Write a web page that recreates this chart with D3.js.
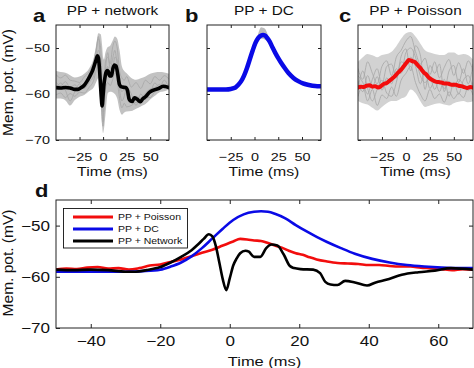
<!DOCTYPE html>
<html>
<head>
<meta charset="utf-8">
<script src="https://cdn.jsdelivr.net/npm/d3@7"></script>
<style>
body { margin:0; background:#fff; }
svg { display:block; font-family:"Liberation Sans", Arial, sans-serif; }
</style>
</head>
<body>
<svg id="fig" width="474" height="368"></svg>
<script>
// ---- data (ms, mV) ----
var netT = [-50,-45,-40,-35,-30,-27,-24,-20,-17,-14,-11,-9,-7.5,-6,-5,-4,-3,-2,-1,0,1,2,3,4.5,5.5,7,8.8,10.5,12,13.7,15.5,17.3,18.5,20.4,24,26,27.5,29,31,33.2,36,39.5,42,45,49.5,54.3,59,63.7,70];
var netV = [-58.6,-58.7,-58.6,-58.7,-59.0,-59.0,-58.7,-58.1,-57.2,-56.1,-54.8,-53.6,-52.6,-51.7,-52.1,-54.0,-57.2,-60.5,-62.6,-60.3,-57.8,-56.4,-55.4,-54.9,-55.1,-56.1,-56.1,-54.4,-53.7,-53.9,-55.6,-57.9,-58.3,-58.5,-58.6,-59.3,-61.0,-61.5,-61.6,-60.8,-61.1,-61.7,-61.1,-60.6,-59.6,-59.1,-58.8,-58.3,-58.6];

var dcT = [-50,-40,-30,-25,-20,-17,-14,-11,-8,-5,-2,1,4,7,9,11,13,16,19,22,25,28,32,36,41,46,51,56,61,66,70];
var dcV = [-59.0,-59.0,-59.0,-58.9,-58.6,-58.0,-57.2,-56.0,-54.4,-52.5,-50.6,-48.9,-47.8,-47.3,-47.2,-47.3,-47.7,-48.6,-49.9,-51.1,-52.2,-53.2,-54.4,-55.5,-56.5,-57.2,-57.7,-58.0,-58.2,-58.3,-58.3];

var poiT = [-50,-47,-44,-41,-38,-35,-32,-29,-26,-23,-20,-17,-14,-11,-8,-5,-2,1,3,5,7,9,11,13,15,17,19,21,23,25,28,31,34,37,40,43,46,49,52,55,58,61,64,67,70];
var poiV = [-58.6,-58.4,-58.5,-58.2,-58.1,-58.4,-58.3,-58.6,-58.3,-57.8,-57.6,-57.1,-56.6,-56.0,-55.3,-54.7,-53.9,-53.1,-52.6,-52.7,-52.9,-53.0,-53.4,-53.9,-54.3,-54.9,-55.4,-55.7,-56.2,-56.6,-57.0,-57.3,-57.4,-57.5,-57.7,-57.7,-57.9,-58.0,-58.0,-58.2,-58.3,-58.5,-58.7,-58.5,-58.6];

// panel a: spread of single trials
var aT  = [-50,-45,-40,-35,-30,-25,-20,-15,-10,-7.5,-5,-2.5,-1,0,1,2.5,5,7.5,10,12.5,15,17.5,20,22.5,25,30,35,40,45,50,55,60,65,70];
var aHi = [-55.0,-55.2,-55.4,-55.9,-56.4,-56.2,-55.6,-54.5,-52.2,-49.5,-46.8,-47.0,-49.5,-52.0,-52.5,-51.0,-49.8,-49.5,-48.5,-47.5,-48.0,-50.5,-54.0,-55.0,-55.5,-56.5,-56.9,-56.6,-56.2,-55.6,-55.3,-55.2,-55.3,-55.6];
var aLo = [-61.0,-61.0,-61.4,-62.5,-61.3,-60.6,-60.2,-59.4,-58.6,-57.5,-56.5,-62.0,-67.0,-68.5,-67.5,-64.5,-59.8,-59.5,-59.6,-60.0,-61.0,-63.5,-64.5,-64.0,-63.8,-63.7,-63.2,-62.7,-62.2,-61.2,-60.4,-59.6,-59.4,-59.0];
var aTr1 = [-55.8,-56.5,-55.9,-57.0,-57.2,-57.5,-56.3,-55.2,-53.0,-50.5,-48.0,-50.0,-57.0,-60.0,-58.0,-53.0,-52.0,-53.5,-50.0,-48.5,-50.0,-55.0,-56.5,-57.0,-56.2,-58.5,-57.5,-58.8,-57.0,-57.8,-56.2,-57.0,-56.0,-56.8];
var aTr2 = [-60.2,-59.8,-60.8,-59.9,-60.5,-59.6,-59.8,-58.6,-57.0,-55.0,-53.5,-58.0,-65.5,-67.0,-64.0,-59.0,-57.5,-58.2,-57.0,-55.5,-57.0,-61.0,-63.0,-62.0,-62.8,-62.5,-61.8,-62.0,-60.6,-60.8,-59.5,-59.0,-58.4,-58.2];
var aTr3 = [-57.5,-58.2,-57.3,-58.6,-58.0,-58.8,-57.6,-56.8,-55.0,-52.8,-50.5,-53.0,-61.0,-64.0,-62.0,-56.5,-54.0,-56.5,-55.0,-52.0,-52.5,-57.5,-59.5,-59.0,-60.2,-61.2,-60.5,-60.9,-59.8,-58.9,-58.6,-57.9,-58.8,-57.8];
var aTr4 = [-59.0,-57.6,-59.2,-61.5,-59.5,-57.8,-58.8,-57.5,-56.0,-51.5,-47.5,-55.0,-63.5,-66.0,-61.0,-55.0,-51.0,-54.5,-52.5,-50.5,-54.0,-59.0,-61.5,-60.5,-58.5,-60.0,-62.5,-60.0,-61.2,-59.8,-57.6,-58.5,-57.0,-58.9];

// panel b
var bT  = [-25,-20,-15,-10,-5,0,3,5,7,9,11,13,15,20,25,30];
var bHi = [-58.7,-58.2,-57.0,-55.0,-52.0,-49.3,-47.5,-46.2,-45.5,-45.6,-45.8,-46.6,-47.8,-49.5,-51.8,-53.4];
var bLo = [-59.2,-59.0,-58.0,-56.5,-53.3,-50.5,-49.0,-48.3,-48.0,-48.0,-48.2,-48.5,-49.0,-50.6,-52.8,-53.9];

// panel c
var cT  = [-50,-45,-40,-35,-30,-25,-20,-15,-10,-5,0,5,10,15,20,25,30,35,40,45,50,55,60,65,70];
var cHi = [-53.0,-52.0,-51.3,-51.6,-52.0,-51.5,-51.3,-50.8,-49.6,-48.0,-46.8,-46.5,-47.5,-49.0,-50.5,-51.0,-51.3,-51.5,-51.5,-51.0,-51.0,-51.5,-51.3,-51.6,-52.5];
var cLo = [-61.5,-62.0,-62.3,-63.0,-63.6,-62.8,-62.0,-61.5,-61.5,-61.0,-60.5,-59.0,-59.8,-61.5,-62.8,-62.5,-62.2,-62.0,-62.3,-62.5,-62.0,-61.7,-61.5,-61.8,-61.6];
var cTr1 = [-54.5,-56.8,-53.0,-55.5,-57.8,-54.0,-52.8,-56.0,-52.0,-50.5,-48.5,-47.5,-50.8,-53.5,-52.2,-55.8,-53.0,-56.5,-54.2,-52.5,-56.0,-53.2,-55.5,-52.8,-55.0];
var cTr2 = [-60.5,-58.2,-61.5,-59.0,-62.5,-60.2,-61.0,-58.5,-60.5,-57.0,-55.5,-54.0,-57.5,-60.0,-61.5,-59.0,-61.0,-60.0,-61.8,-59.5,-61.0,-59.8,-60.8,-58.5,-60.2];
var cTr3 = [-57.2,-59.5,-56.0,-58.5,-56.2,-59.2,-56.5,-57.8,-54.5,-55.5,-51.0,-50.0,-52.0,-56.0,-57.5,-56.5,-59.0,-57.0,-58.8,-57.2,-58.5,-56.8,-58.0,-59.2,-57.5];
var cTr4 = [-59.0,-55.0,-58.8,-61.5,-59.0,-57.0,-59.8,-60.5,-57.5,-53.0,-53.5,-52.0,-54.0,-57.8,-55.0,-58.8,-57.2,-59.5,-56.8,-60.5,-57.5,-60.0,-57.0,-56.0,-59.0];
var cTr5 = [-56.0,-57.5,-60.0,-56.8,-54.5,-58.0,-54.0,-53.5,-56.5,-51.8,-50.2,-55.0,-49.5,-51.5,-59.0,-53.8,-55.5,-53.5,-59.5,-55.0,-53.8,-57.5,-54.5,-57.8,-53.5];

var xDomain = [-50, 70];
var yDomain = [-70, -45];
var smallXTicks = [-25, 0, 25, 50];
var bigXTicks = [-40, -20, 0, 20, 40, 60];
var yTicks = [-70, -60, -50];
var legendNames = ["PP + Poisson", "PP + DC", "PP + Network"];

var RED = "#f20d0d", BLUE = "#0a0ae6", GRAY = "#a6a6a6";
var SX = 1.22; // text in the figure is stretched sideways

var svg = d3.select("#fig");

function zip(t, v) { return t.map(function(d, i) { return [d, v[i]]; }); }

function txt(x, y, s, size, anchor, weight) {
  return svg.append("text")
    .attr("transform", "translate(" + x + "," + y + ") scale(" + SX + ",1)")
    .attr("text-anchor", anchor || "middle")
    .style("font-size", size + "px")
    .style("font-weight", weight || "normal")
    .attr("fill", "#111")
    .text(s);
}

function panel(box, xt, fs, showY, tick) {
  var x = d3.scaleLinear().domain(xDomain).range([box.l, box.r]);
  var y = d3.scaleLinear().domain(yDomain).range([box.b, box.t]);
  var id = "clip" + box.l + "_" + box.t;
  svg.append("clipPath").attr("id", id).append("rect")
    .attr("x", box.l).attr("y", box.t)
    .attr("width", box.r - box.l).attr("height", box.b - box.t);

  var ax = svg.append("g").attr("class", "axes");
  var bottom = ax.append("g").attr("transform", "translate(0," + box.b + ")")
    .call(d3.axisBottom(x).tickValues(xt).tickSizeInner(-tick).tickSizeOuter(0).tickPadding(box.pad));
  ax.append("g").attr("transform", "translate(0," + box.t + ")")
    .call(d3.axisTop(x).tickValues(xt).tickSizeInner(-tick).tickSizeOuter(0).tickFormat(""));
  var left = ax.append("g").attr("transform", "translate(" + box.l + ",0)")
    .call(d3.axisLeft(y).tickValues(yTicks).tickSizeInner(-tick).tickSizeOuter(0).tickPadding(5).tickFormat(showY ? null : ""));
  ax.append("g").attr("transform", "translate(" + box.r + ",0)")
    .call(d3.axisRight(y).tickValues(yTicks).tickSizeInner(-tick).tickSizeOuter(0).tickFormat(""));
  ax.selectAll(".domain").remove();
  ax.selectAll(".tick line").attr("stroke", "#222");
  ax.selectAll("text").attr("font-size", null).style("font-size", fs + "px")
    .attr("fill", "#111").attr("font-family", null)
    .attr("transform", "scale(" + SX + ",1)");

  var g = svg.append("g").attr("clip-path", "url(#" + id + ")");
  svg.append("rect").attr("x", box.l).attr("y", box.t)
    .attr("width", box.r - box.l).attr("height", box.b - box.t)
    .attr("fill", "none").attr("stroke", "#222").attr("stroke-width", 1);
  return { x: x, y: y, g: g, ax: ax };
}

function drawLine(p, data, color, w) {
  var line = d3.line().x(function(d) { return p.x(d[0]); }).y(function(d) { return p.y(d[1]); })
    .curve(d3.curveMonotoneX);
  p.g.append("path").datum(data).attr("d", line)
    .attr("fill", "none").attr("stroke", color).attr("stroke-width", w)
    .attr("stroke-linejoin", "round").attr("stroke-linecap", "round");
}

function drawBand(p, t, lo, hi, color) {
  var area = d3.area().x(function(d) { return p.x(d[0]); })
    .y0(function(d) { return p.y(d[1]); }).y1(function(d) { return p.y(d[2]); })
    .curve(d3.curveMonotoneX);
  p.g.append("path").datum(t.map(function(d, i) { return [d, lo[i], hi[i]]; }))
    .attr("d", area).attr("fill", color).attr("stroke", "none");
}

// ---- top row ----
var pa = panel({ l: 56, r: 169, t: 25, b: 140, pad: 13 }, smallXTicks, 11.8, true, 3);
drawBand(pa, aT, aLo, aHi, "#c2c2c2");
[aTr1, aTr2, aTr3, aTr4].forEach(function(v) { drawLine(pa, zip(aT, v), GRAY, 0.8); });
drawLine(pa, zip(netT, netV), "#000", 3.6);

var pb = panel({ l: 207, r: 321, t: 25, b: 140, pad: 13 }, smallXTicks, 11.8, false, 3);
drawBand(pb, bT, bLo, bHi, "#bdbdbd");
drawLine(pb, zip(dcT, dcV), BLUE, 4.5);

var pc = panel({ l: 358, r: 473, t: 25, b: 140, pad: 13 }, smallXTicks, 11.8, false, 3);
drawBand(pc, cT, cLo, cHi, "#d2d2d2");
[cTr1, cTr2, cTr3, cTr4, cTr5].forEach(function(v) { drawLine(pc, zip(cT, v), GRAY, 0.8); });
drawLine(pc, zip(poiT, poiV), RED, 4);

txt(112.5, 15, "PP + network", 12.6);
txt(264, 15, "PP + DC", 12.6);
txt(415.5, 15, "PP + Poisson", 12.6);
txt(33, 21.5, "a", 18, "start", "bold");
txt(185, 21.5, "b", 18, "start", "bold");
txt(339, 21.5, "c", 18, "start", "bold");
[112.5, 264, 415.5].forEach(function(cx) { txt(cx, 176, "Time (ms)", 13); });
svg.append("text").attr("transform", "translate(12.5,82.5) rotate(-90)")
  .attr("text-anchor", "middle").style("font-size", "15.5px").attr("fill", "#111")
  .text("Mem. pot. (mV)");

// ---- bottom panel ----
var pd = panel({ l: 56, r: 473, t: 200, b: 328, pad: 8 }, bigXTicks, 14, true, 4);
drawLine(pd, zip(poiT, poiV), RED, 2.6);
drawLine(pd, zip(dcT, dcV), BLUE, 2.6);
drawLine(pd, zip(netT, netV), "#000", 2.6);
txt(35, 196.5, "d", 18, "start", "bold");
txt(264.5, 366, "Time (ms)", 13.5);
svg.append("text").attr("transform", "translate(12.5,263) rotate(-90)")
  .attr("text-anchor", "middle").style("font-size", "15.5px").attr("fill", "#111")
  .text("Mem. pot. (mV)");

// legend
var legColors = [RED, BLUE, "#000"];
var leg = svg.append("g");
leg.append("rect").attr("x", 63.5).attr("y", 208.5).attr("width", 124).attr("height", 39.5)
  .attr("fill", "#fff").attr("stroke", "#111").attr("stroke-width", 0.9);
legendNames.forEach(function(name, i) {
  var yy = 217 + i * 12;
  leg.append("line").attr("x1", 73).attr("x2", 113).attr("y1", yy).attr("y2", yy)
    .attr("stroke", legColors[i]).attr("stroke-width", 3);
  txt(118, yy + 3.2, name, 8.6, "start");
});
</script>
</body>
</html>
